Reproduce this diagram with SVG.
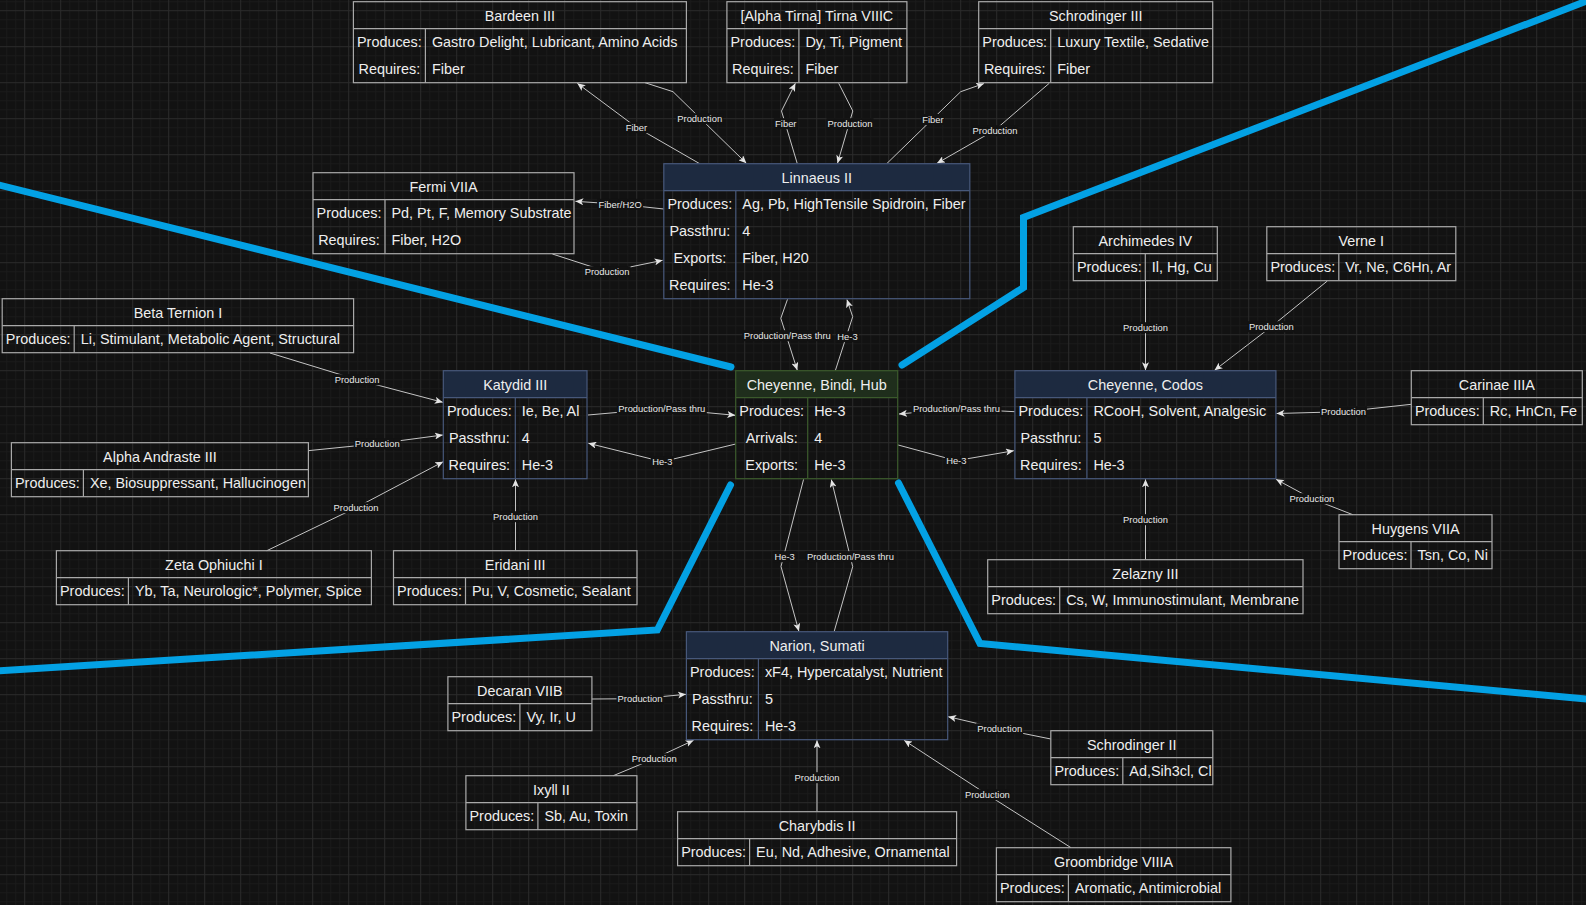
<svg xmlns="http://www.w3.org/2000/svg" width="1586" height="905" viewBox="0 0 1586 905">
<defs>
<pattern id="grid" patternUnits="userSpaceOnUse" x="-11.8" y="-25.8" width="36" height="36">
<path d="M9.5 0V36M18.5 0V36M27.5 0V36M0 9.5H36M0 18.5H36M0 27.5H36" stroke="#1a1a1a" stroke-width="1" fill="none"/>
<path d="M0.5 0V36M0 0.5H36" stroke="#2b2b2b" stroke-width="1" fill="none"/>
</pattern>
<marker id="ar" viewBox="0 0 8 7" refX="8" refY="3.5" markerWidth="8" markerHeight="7" markerUnits="userSpaceOnUse" orient="auto">
<path d="M0,0 L8,3.5 L0,7 L2,3.5 Z" fill="#e4e4e4"/>
</marker>
<style>
.bx{fill:none;stroke:#a9a9a9;stroke-width:1.2}
.bl{stroke:#a9a9a9;stroke-width:1.2}
.nv .bx,.nv .bl{stroke:#47587a}
.nv .hd{fill:#1d2a40}
.gr .bx,.gr .bl{stroke:#3b5a2c}
.gr .hd{fill:#1f2e1c}
.t{font-family:"Liberation Sans",Arial,sans-serif;font-size:14.4px;fill:#eeeeee}
.c{text-anchor:middle}
.h{transform:translateY(-0.8px)}
.e path{fill:none;stroke:#c4c4c4;stroke-width:1;marker-end:url(#ar)}
.lb rect{fill:#121212}
.lb text{font-family:"Liberation Sans",Arial,sans-serif;font-size:9.4px;fill:#e8e8e8;text-anchor:middle}
.bz{fill:none;stroke:#03a1e4;stroke-width:7;stroke-linecap:round;stroke-linejoin:miter}
</style>
</defs>
<rect width="1586" height="905" fill="#121212"/>
<rect width="1586" height="905" fill="url(#grid)"/>

<g id="borders">
<path class="bz" d="M-5,184 L731,367"/>
<path class="bz" d="M902,365 L1023.5,287.5 L1023.5,217.5 L1592,-1"/>
<path class="bz" d="M730.5,485 L657.3,630 L-5,671"/>
<path class="bz" d="M898.5,483 L980,643.5 L1592,699.5"/>
</g>

<g id="connectors" class="e">
<path d="M699.7,163.7 L636,127 L577.3,83.3"/>
<path d="M645,82.7 L673,91.7 L746.4,163.3"/>
<path d="M797.3,163.7 L781.5,111 L795.4,83.3"/>
<path d="M838.7,83.3 L852.8,111 L837.5,163.3"/>
<path d="M886.7,163.7 L960.7,91.7 L984,83.5"/>
<path d="M1049.2,83.3 L995,130 L937,163.3"/>
<path d="M663.8,209 L620.1,204.3 L575.4,201.3"/>
<path d="M552.4,254 L607.1,271.7 L662.6,260.3"/>
<path d="M787.5,299.3 L780.8,318.3 L797.3,370.3"/>
<path d="M835.3,370.7 L852.7,316.7 L846.9,299.5"/>
<path d="M588,415 L661.8,408.5 L735.3,415.3"/>
<path d="M735.7,444 L662.3,461.7 L588.4,443.3"/>
<path d="M1014.9,411.7 L956.5,408.7 L899,414"/>
<path d="M898.2,445 L956.3,460.7 L1013.8,450.7"/>
<path d="M803.6,479.3 L781,566.5 L798.9,631.3"/>
<path d="M834.1,631.7 L852.7,566.7 L831.3,479.5"/>
<path d="M1145.5,281 L1145.5,370.3"/>
<path d="M1327.3,281 L1271.3,326.7 L1214.5,370.3"/>
<path d="M1411.3,404.3 L1343.5,411.7 L1276.5,413.5"/>
<path d="M1352.8,514.7 L1311.9,498.7 L1276,479.3"/>
<path d="M1145.5,559.7 L1145.5,479.3"/>
<path d="M270,353 L357.1,379.7 L442.8,402.3"/>
<path d="M308,450.7 L377.2,443.7 L442.8,435"/>
<path d="M266.8,550.7 L356,507.7 L443.2,461.7"/>
<path d="M515.5,550.7 L515.5,479.3"/>
<path d="M591.9,699 L640,698.7 L686,694.3"/>
<path d="M613.3,775.7 L654.2,758.7 L693.6,740.3"/>
<path d="M817,811.7 L817,740.3"/>
<path d="M1050.8,739 L999.7,728.7 L948.2,716.7"/>
<path d="M1071,847.7 L987.4,794.7 L904.1,740.3"/>
</g>

<g id="connector-labels" class="lb">
<rect x="624.4" y="122.2" width="24" height="11"/><text x="636.4" y="131.1">Fiber</text>
<rect x="676.2" y="113.2" width="47" height="11"/><text x="699.7" y="122.1">Production</text>
<rect x="773.8" y="118.2" width="24" height="11"/><text x="785.8" y="127.1">Fiber</text>
<rect x="826.5" y="118.2" width="47" height="11"/><text x="850" y="127.1">Production</text>
<rect x="921" y="114" width="24" height="11"/><text x="933" y="122.9">Fiber</text>
<rect x="971.5" y="125.2" width="47" height="11"/><text x="995" y="134.1">Production</text>
<rect x="597.1" y="198.8" width="46" height="11"/><text x="620.1" y="207.7">Fiber/H2O</text>
<rect x="583.6" y="266.2" width="47" height="11"/><text x="607.1" y="275.1">Production</text>
<rect x="742.3" y="330.2" width="90" height="11"/><text x="787.3" y="339.1">Production/Pass thru</text>
<rect x="836" y="331.2" width="23" height="11"/><text x="847.5" y="340.1">He-3</text>
<rect x="616.8" y="403" width="90" height="11"/><text x="661.8" y="411.9">Production/Pass thru</text>
<rect x="650.8" y="456.2" width="23" height="11"/><text x="662.3" y="465.1">He-3</text>
<rect x="911.5" y="403.2" width="90" height="11"/><text x="956.5" y="412.1">Production/Pass thru</text>
<rect x="944.8" y="455.2" width="23" height="11"/><text x="956.3" y="464.1">He-3</text>
<rect x="773.1" y="551.2" width="23" height="11"/><text x="784.6" y="560.1">He-3</text>
<rect x="805.4" y="551.2" width="90" height="11"/><text x="850.4" y="560.1">Production/Pass thru</text>
<rect x="1122" y="322.2" width="47" height="11"/><text x="1145.5" y="331.1">Production</text>
<rect x="1247.8" y="321.2" width="47" height="11"/><text x="1271.3" y="330.1">Production</text>
<rect x="1320" y="406.2" width="47" height="11"/><text x="1343.5" y="415.1">Production</text>
<rect x="1288.4" y="493.2" width="47" height="11"/><text x="1311.9" y="502.1">Production</text>
<rect x="1122" y="514.2" width="47" height="11"/><text x="1145.5" y="523.1">Production</text>
<rect x="333.6" y="374.2" width="47" height="11"/><text x="357.1" y="383.1">Production</text>
<rect x="353.7" y="438.2" width="47" height="11"/><text x="377.2" y="447.1">Production</text>
<rect x="332.5" y="502.2" width="47" height="11"/><text x="356" y="511.1">Production</text>
<rect x="492" y="511.2" width="47" height="11"/><text x="515.5" y="520.1">Production</text>
<rect x="616.5" y="693.2" width="47" height="11"/><text x="640" y="702.1">Production</text>
<rect x="630.7" y="753.2" width="47" height="11"/><text x="654.2" y="762.1">Production</text>
<rect x="793.5" y="772.2" width="47" height="11"/><text x="817" y="781.1">Production</text>
<rect x="976.2" y="723.2" width="47" height="11"/><text x="999.7" y="732.1">Production</text>
<rect x="963.9" y="789.2" width="47" height="11"/><text x="987.4" y="798.1">Production</text>
</g>

<g id="n-bardeen-iii">
<rect class="bx" x="353.4" y="1.7" width="333" height="81"/>
<line class="bl" x1="353.4" y1="28.7" x2="686.4" y2="28.7"/><line class="bl" x1="425.4" y1="28.7" x2="425.4" y2="82.7"/>
<text class="t c h" x="519.9" y="21.5">Bardeen III</text>
<text class="t c" x="389.4" y="47.2">Produces:</text><text class="t" x="431.9" y="47.2">Gastro Delight, Lubricant, Amino Acids</text>
<text class="t c" x="389.4" y="74.2">Requires:</text><text class="t" x="431.9" y="74.2">Fiber</text>
</g>

<g id="n-tirna-viiic">
<rect class="bx" x="726.9" y="1.7" width="180" height="81"/>
<line class="bl" x1="726.9" y1="28.7" x2="906.9" y2="28.7"/><line class="bl" x1="798.9" y1="28.7" x2="798.9" y2="82.7"/>
<text class="t c h" x="816.9" y="21.5">[Alpha Tirna] Tirna VIIIC</text>
<text class="t c" x="762.9" y="47.2">Produces:</text><text class="t" x="805.4" y="47.2">Dy, Ti, Pigment</text>
<text class="t c" x="762.9" y="74.2">Requires:</text><text class="t" x="805.4" y="74.2">Fiber</text>
</g>

<g id="n-schrodinger-iii">
<rect class="bx" x="978.7" y="1.7" width="234" height="81"/>
<line class="bl" x1="978.7" y1="28.7" x2="1212.7" y2="28.7"/><line class="bl" x1="1050.7" y1="28.7" x2="1050.7" y2="82.7"/>
<text class="t c h" x="1095.7" y="21.5">Schrodinger III</text>
<text class="t c" x="1014.7" y="47.2">Produces:</text><text class="t" x="1057.2" y="47.2">Luxury Textile, Sedative</text>
<text class="t c" x="1014.7" y="74.2">Requires:</text><text class="t" x="1057.2" y="74.2">Fiber</text>
</g>

<g id="n-linnaeus-ii" class="nv">
<rect class="hd" x="663.8" y="163.7" width="306" height="27"/>
<rect class="bx" x="663.8" y="163.7" width="306" height="135"/>
<line class="bl" x1="663.8" y1="190.7" x2="969.8" y2="190.7"/><line class="bl" x1="735.8" y1="190.7" x2="735.8" y2="298.7"/>
<text class="t c h" x="816.8" y="183.5">Linnaeus II</text>
<text class="t c" x="699.8" y="209.2">Produces:</text><text class="t" x="742.3" y="209.2">Ag, Pb, HighTensile Spidroin, Fiber</text>
<text class="t c" x="699.8" y="236.2">Passthru:</text><text class="t" x="742.3" y="236.2">4</text>
<text class="t c" x="699.8" y="263.2">Exports:</text><text class="t" x="742.3" y="263.2">Fiber, H20</text>
<text class="t c" x="699.8" y="290.2">Requires:</text><text class="t" x="742.3" y="290.2">He-3</text>
</g>

<g id="n-fermi-viia">
<rect class="bx" x="313" y="172.7" width="261" height="81"/>
<line class="bl" x1="313" y1="199.7" x2="574" y2="199.7"/><line class="bl" x1="385" y1="199.7" x2="385" y2="253.7"/>
<text class="t c h" x="443.5" y="192.5">Fermi VIIA</text>
<text class="t c" x="349" y="218.2">Produces:</text><text class="t" x="391.5" y="218.2">Pd, Pt, F, Memory Substrate</text>
<text class="t c" x="349" y="245.2">Requires:</text><text class="t" x="391.5" y="245.2">Fiber, H2O</text>
</g>

<g id="n-beta-ternion-i">
<rect class="bx" x="2.2" y="298.7" width="351.4" height="54"/>
<line class="bl" x1="2.2" y1="325.7" x2="353.6" y2="325.7"/><line class="bl" x1="74.2" y1="325.7" x2="74.2" y2="352.7"/>
<text class="t c h" x="177.9" y="318.5">Beta Ternion I</text>
<text class="t c" x="38.2" y="344.2">Produces:</text><text class="t" x="80.7" y="344.2">Li, Stimulant, Metabolic Agent, Structural</text>
</g>

<g id="n-katydid-iii" class="nv">
<rect class="hd" x="443.3" y="370.7" width="143.7" height="27"/>
<rect class="bx" x="443.3" y="370.7" width="143.7" height="108"/>
<line class="bl" x1="443.3" y1="397.7" x2="587" y2="397.7"/><line class="bl" x1="515.3" y1="397.7" x2="515.3" y2="478.7"/>
<text class="t c h" x="515.2" y="390.5">Katydid III</text>
<text class="t c" x="479.3" y="416.2">Produces:</text><text class="t" x="521.8" y="416.2">Ie, Be, Al</text>
<text class="t c" x="479.3" y="443.2">Passthru:</text><text class="t" x="521.8" y="443.2">4</text>
<text class="t c" x="479.3" y="470.2">Requires:</text><text class="t" x="521.8" y="470.2">He-3</text>
</g>

<g id="n-alpha-andraste-iii">
<rect class="bx" x="11.4" y="442.7" width="297" height="54"/>
<line class="bl" x1="11.4" y1="469.7" x2="308.4" y2="469.7"/><line class="bl" x1="83.4" y1="469.7" x2="83.4" y2="496.7"/>
<text class="t c h" x="159.9" y="462.5">Alpha Andraste III</text>
<text class="t c" x="47.4" y="488.2">Produces:</text><text class="t" x="89.9" y="488.2">Xe, Biosuppressant, Hallucinogen</text>
</g>

<g id="n-zeta-ophiuchi-i">
<rect class="bx" x="56.4" y="550.7" width="315" height="54"/>
<line class="bl" x1="56.4" y1="577.7" x2="371.4" y2="577.7"/><line class="bl" x1="128.4" y1="577.7" x2="128.4" y2="604.7"/>
<text class="t c h" x="213.9" y="570.5">Zeta Ophiuchi I</text>
<text class="t c" x="92.4" y="596.2">Produces:</text><text class="t" x="134.9" y="596.2">Yb, Ta, Neurologic*, Polymer, Spice</text>
</g>

<g id="n-eridani-iii">
<rect class="bx" x="393.5" y="550.7" width="243.5" height="54"/>
<line class="bl" x1="393.5" y1="577.7" x2="637" y2="577.7"/><line class="bl" x1="465.5" y1="577.7" x2="465.5" y2="604.7"/>
<text class="t c h" x="515.2" y="570.5">Eridani III</text>
<text class="t c" x="429.5" y="596.2">Produces:</text><text class="t" x="472" y="596.2">Pu, V, Cosmetic, Sealant</text>
</g>

<g id="n-cheyenne-bindi-hub" class="gr">
<rect class="hd" x="735.7" y="370.7" width="162" height="27"/>
<rect class="bx" x="735.7" y="370.7" width="162" height="108"/>
<line class="bl" x1="735.7" y1="397.7" x2="897.7" y2="397.7"/><line class="bl" x1="807.7" y1="397.7" x2="807.7" y2="478.7"/>
<text class="t c h" x="816.7" y="390.5">Cheyenne, Bindi, Hub</text>
<text class="t c" x="771.7" y="416.2">Produces:</text><text class="t" x="814.2" y="416.2">He-3</text>
<text class="t c" x="771.7" y="443.2">Arrivals:</text><text class="t" x="814.2" y="443.2">4</text>
<text class="t c" x="771.7" y="470.2">Exports:</text><text class="t" x="814.2" y="470.2">He-3</text>
</g>

<g id="n-cheyenne-codos" class="nv">
<rect class="hd" x="1014.9" y="370.7" width="261" height="27"/>
<rect class="bx" x="1014.9" y="370.7" width="261" height="108"/>
<line class="bl" x1="1014.9" y1="397.7" x2="1275.9" y2="397.7"/><line class="bl" x1="1086.9" y1="397.7" x2="1086.9" y2="478.7"/>
<text class="t c h" x="1145.4" y="390.5">Cheyenne, Codos</text>
<text class="t c" x="1050.9" y="416.2">Produces:</text><text class="t" x="1093.4" y="416.2">RCooH, Solvent, Analgesic</text>
<text class="t c" x="1050.9" y="443.2">Passthru:</text><text class="t" x="1093.4" y="443.2">5</text>
<text class="t c" x="1050.9" y="470.2">Requires:</text><text class="t" x="1093.4" y="470.2">He-3</text>
</g>

<g id="n-archimedes-iv">
<rect class="bx" x="1073.3" y="226.7" width="144" height="54"/>
<line class="bl" x1="1073.3" y1="253.7" x2="1217.3" y2="253.7"/><line class="bl" x1="1145.3" y1="253.7" x2="1145.3" y2="280.7"/>
<text class="t c h" x="1145.3" y="246.5">Archimedes IV</text>
<text class="t c" x="1109.3" y="272.2">Produces:</text><text class="t" x="1151.8" y="272.2">Il, Hg, Cu</text>
</g>

<g id="n-verne-i">
<rect class="bx" x="1266.8" y="226.7" width="189" height="54"/>
<line class="bl" x1="1266.8" y1="253.7" x2="1455.8" y2="253.7"/><line class="bl" x1="1338.8" y1="253.7" x2="1338.8" y2="280.7"/>
<text class="t c h" x="1361.3" y="246.5">Verne I</text>
<text class="t c" x="1302.8" y="272.2">Produces:</text><text class="t" x="1345.3" y="272.2">Vr, Ne, C6Hn, Ar</text>
</g>

<g id="n-carinae-iiia">
<rect class="bx" x="1411.3" y="370.7" width="171" height="54"/>
<line class="bl" x1="1411.3" y1="397.7" x2="1582.3" y2="397.7"/><line class="bl" x1="1483.3" y1="397.7" x2="1483.3" y2="424.7"/>
<text class="t c h" x="1496.8" y="390.5">Carinae IIIA</text>
<text class="t c" x="1447.3" y="416.2">Produces:</text><text class="t" x="1489.8" y="416.2">Rc, HnCn, Fe</text>
</g>

<g id="n-huygens-viia">
<rect class="bx" x="1339" y="514.7" width="153" height="54"/>
<line class="bl" x1="1339" y1="541.7" x2="1492" y2="541.7"/><line class="bl" x1="1411" y1="541.7" x2="1411" y2="568.7"/>
<text class="t c h" x="1415.5" y="534.5">Huygens VIIA</text>
<text class="t c" x="1375" y="560.2">Produces:</text><text class="t" x="1417.5" y="560.2">Tsn, Co, Ni</text>
</g>

<g id="n-zelazny-iii">
<rect class="bx" x="987.7" y="559.7" width="315.3" height="54"/>
<line class="bl" x1="987.7" y1="586.7" x2="1303" y2="586.7"/><line class="bl" x1="1059.7" y1="586.7" x2="1059.7" y2="613.7"/>
<text class="t c h" x="1145.4" y="579.5">Zelazny III</text>
<text class="t c" x="1023.7" y="605.2">Produces:</text><text class="t" x="1066.2" y="605.2">Cs, W, Immunostimulant, Membrane</text>
</g>

<g id="n-narion-sumati" class="nv">
<rect class="hd" x="686.4" y="631.7" width="261.3" height="27"/>
<rect class="bx" x="686.4" y="631.7" width="261.3" height="108"/>
<line class="bl" x1="686.4" y1="658.7" x2="947.7" y2="658.7"/><line class="bl" x1="758.4" y1="658.7" x2="758.4" y2="739.7"/>
<text class="t c h" x="817" y="651.5">Narion, Sumati</text>
<text class="t c" x="722.4" y="677.2">Produces:</text><text class="t" x="764.9" y="677.2">xF4, Hypercatalyst, Nutrient</text>
<text class="t c" x="722.4" y="704.2">Passthru:</text><text class="t" x="764.9" y="704.2">5</text>
<text class="t c" x="722.4" y="731.2">Requires:</text><text class="t" x="764.9" y="731.2">He-3</text>
</g>

<g id="n-decaran-viib">
<rect class="bx" x="447.9" y="676.7" width="144" height="54"/>
<line class="bl" x1="447.9" y1="703.7" x2="591.9" y2="703.7"/><line class="bl" x1="519.9" y1="703.7" x2="519.9" y2="730.7"/>
<text class="t c h" x="519.9" y="696.5">Decaran VIIB</text>
<text class="t c" x="483.9" y="722.2">Produces:</text><text class="t" x="526.4" y="722.2">Vy, Ir, U</text>
</g>

<g id="n-ixyll-ii">
<rect class="bx" x="465.9" y="775.7" width="171" height="54"/>
<line class="bl" x1="465.9" y1="802.7" x2="636.9" y2="802.7"/><line class="bl" x1="537.9" y1="802.7" x2="537.9" y2="829.7"/>
<text class="t c h" x="551.4" y="795.5">Ixyll II</text>
<text class="t c" x="501.9" y="821.2">Produces:</text><text class="t" x="544.4" y="821.2">Sb, Au, Toxin</text>
</g>

<g id="n-charybdis-ii">
<rect class="bx" x="677.6" y="811.7" width="279" height="54"/>
<line class="bl" x1="677.6" y1="838.7" x2="956.6" y2="838.7"/><line class="bl" x1="749.6" y1="838.7" x2="749.6" y2="865.7"/>
<text class="t c h" x="817.1" y="831.5">Charybdis II</text>
<text class="t c" x="713.6" y="857.2">Produces:</text><text class="t" x="756.1" y="857.2">Eu, Nd, Adhesive, Ornamental</text>
</g>

<g id="n-schrodinger-ii">
<rect class="bx" x="1050.8" y="730.7" width="162" height="54"/>
<line class="bl" x1="1050.8" y1="757.7" x2="1212.8" y2="757.7"/><line class="bl" x1="1122.8" y1="757.7" x2="1122.8" y2="784.7"/>
<text class="t c h" x="1131.8" y="750.5">Schrodinger II</text>
<text class="t c" x="1086.8" y="776.2">Produces:</text><text class="t" x="1129.3" y="776.2">Ad,Sih3cl, Cl</text>
</g>

<g id="n-groombridge-viiia">
<rect class="bx" x="996.4" y="847.7" width="234.5" height="54"/>
<line class="bl" x1="996.4" y1="874.7" x2="1230.9" y2="874.7"/><line class="bl" x1="1068.4" y1="874.7" x2="1068.4" y2="901.7"/>
<text class="t c h" x="1113.6" y="867.5">Groombridge VIIIA</text>
<text class="t c" x="1032.4" y="893.2">Produces:</text><text class="t" x="1074.9" y="893.2">Aromatic, Antimicrobial</text>
</g>
</svg>
